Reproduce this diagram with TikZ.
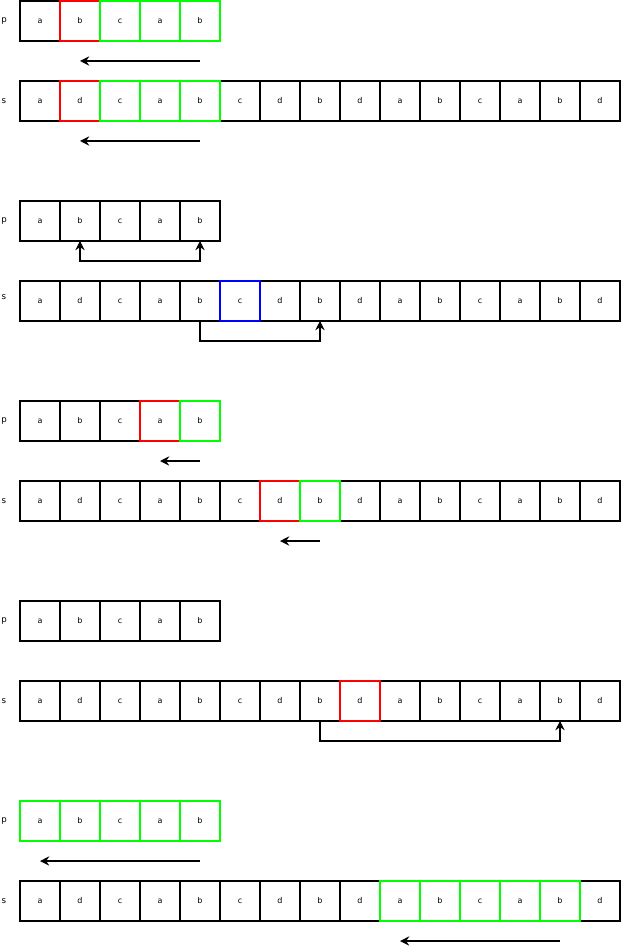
\documentclass[tikz,border=0pt]{standalone}
\usepackage{fontspec}
\setmainfont{DejaVu Sans}
\usetikzlibrary{arrows.meta}

\tikzset{
	cell/.style={draw=black,line width=0.9pt,minimum size=30pt,inner sep=0pt,outer sep=0pt,font=\fontsize{6}{7}\selectfont},
	lbl/.style={font=\fontsize{6.5}{7}\selectfont,inner sep=0pt},
	moveline/.style={->,>={Stealth[length=7pt,width=7pt,inset=2.5pt]},line width=0.9pt},
}
% one row of cells: name, y, letters
\newcommand{\cellrow}[3]{%
	\foreach \l [count=\i from 0] in {#3}
		\node[cell] (#1-\i) at (40+40*\i,#2) {\l};
}
% recolour a cell
\newcommand{\markcell}[2]{\draw[#1,line width=0.9pt] (#2.south west) rectangle (#2.north east);}

\begin{document}
\begin{tikzpicture}[x=0.75pt,y=-0.75pt]
	\useasboundingbox (0,0) rectangle (621,948);
	
	% Schritt 1
	\node[lbl] (lp1) at (4,21) {p};
	\node[lbl] (ls1) at (4,101) {s};
	\cellrow{p1}{21}{a,b,c,a,b}
	\cellrow{s1}{101}{a,d,c,a,b,c,d,b,d,a,b,c,a,b,d}
	\markcell{red}{p1-1} \markcell{green}{p1-2} \markcell{green}{p1-3} \markcell{green}{p1-4}
	\markcell{red}{s1-1} \markcell{green}{s1-2} \markcell{green}{s1-3} \markcell{green}{s1-4}
	\coordinate (a1) at (200,61); \coordinate (b1) at (80,61);
	\draw[moveline] (a1) -- (b1);
	\coordinate (a2) at (200,141); \coordinate (b2) at (80,141);
	\draw[moveline] (a2) -- (b2);
	
	% Schritt 2
	\node[lbl] (lp2) at (4,221) {p};
	\node[lbl] (ls2) at (4,297) {s};
	\cellrow{p2}{221}{a,b,c,a,b}
	\cellrow{s2}{301}{a,d,c,a,b,c,d,b,d,a,b,c,a,b,d}
	\markcell{blue}{s2-5}
	\draw[moveline,<->] (p2-1.south) -- ++(0,20) -| (p2-4.south);
	\draw[moveline] (s2-4.south) -- ++(0,20) -| (s2-7.south);
	
	% Schritt 3
	\node[lbl] (lp3) at (4,421) {p};
	\node[lbl] (ls3) at (4,501) {s};
	\cellrow{p3}{421}{a,b,c,a,b}
	\cellrow{s3}{501}{a,d,c,a,b,c,d,b,d,a,b,c,a,b,d}
	\markcell{red}{p3-3} \markcell{green}{p3-4}
	\markcell{red}{s3-6} \markcell{green}{s3-7}
	\coordinate (a3) at (200,461); \coordinate (b3) at (160,461);
	\draw[moveline] (a3) -- (b3);
	\coordinate (a4) at (320,541); \coordinate (b4) at (280,541);
	\draw[moveline] (a4) -- (b4);
	
	% Schritt 4
	\node[lbl] (lp4) at (4,621) {p};
	\node[lbl] (ls4) at (4,701) {s};
	\cellrow{p4}{621}{a,b,c,a,b}
	\cellrow{s4}{701}{a,d,c,a,b,c,d,b,d,a,b,c,a,b,d}
	\markcell{red}{s4-8}
	\draw[moveline] (s4-7.south) -- ++(0,20) -| (s4-13.south);
	
	% Schritt 5
	\node[lbl] (lp5) at (4,821) {p};
	\node[lbl] (ls5) at (4,901) {s};
	\cellrow{p5}{821}{a,b,c,a,b}
	\cellrow{s5}{901}{a,d,c,a,b,c,d,b,d,a,b,c,a,b,d}
	\foreach \i in {0,...,4} {\markcell{green}{p5-\i}}
	\foreach \i in {9,...,13} {\markcell{green}{s5-\i}}
	\coordinate (a5) at (200,861); \coordinate (b5) at (40,861);
	\draw[moveline] (a5) -- (b5);
	\coordinate (a6) at (560,941); \coordinate (b6) at (400,941);
	\draw[moveline] (a6) -- (b6);
\end{tikzpicture}
\end{document}
